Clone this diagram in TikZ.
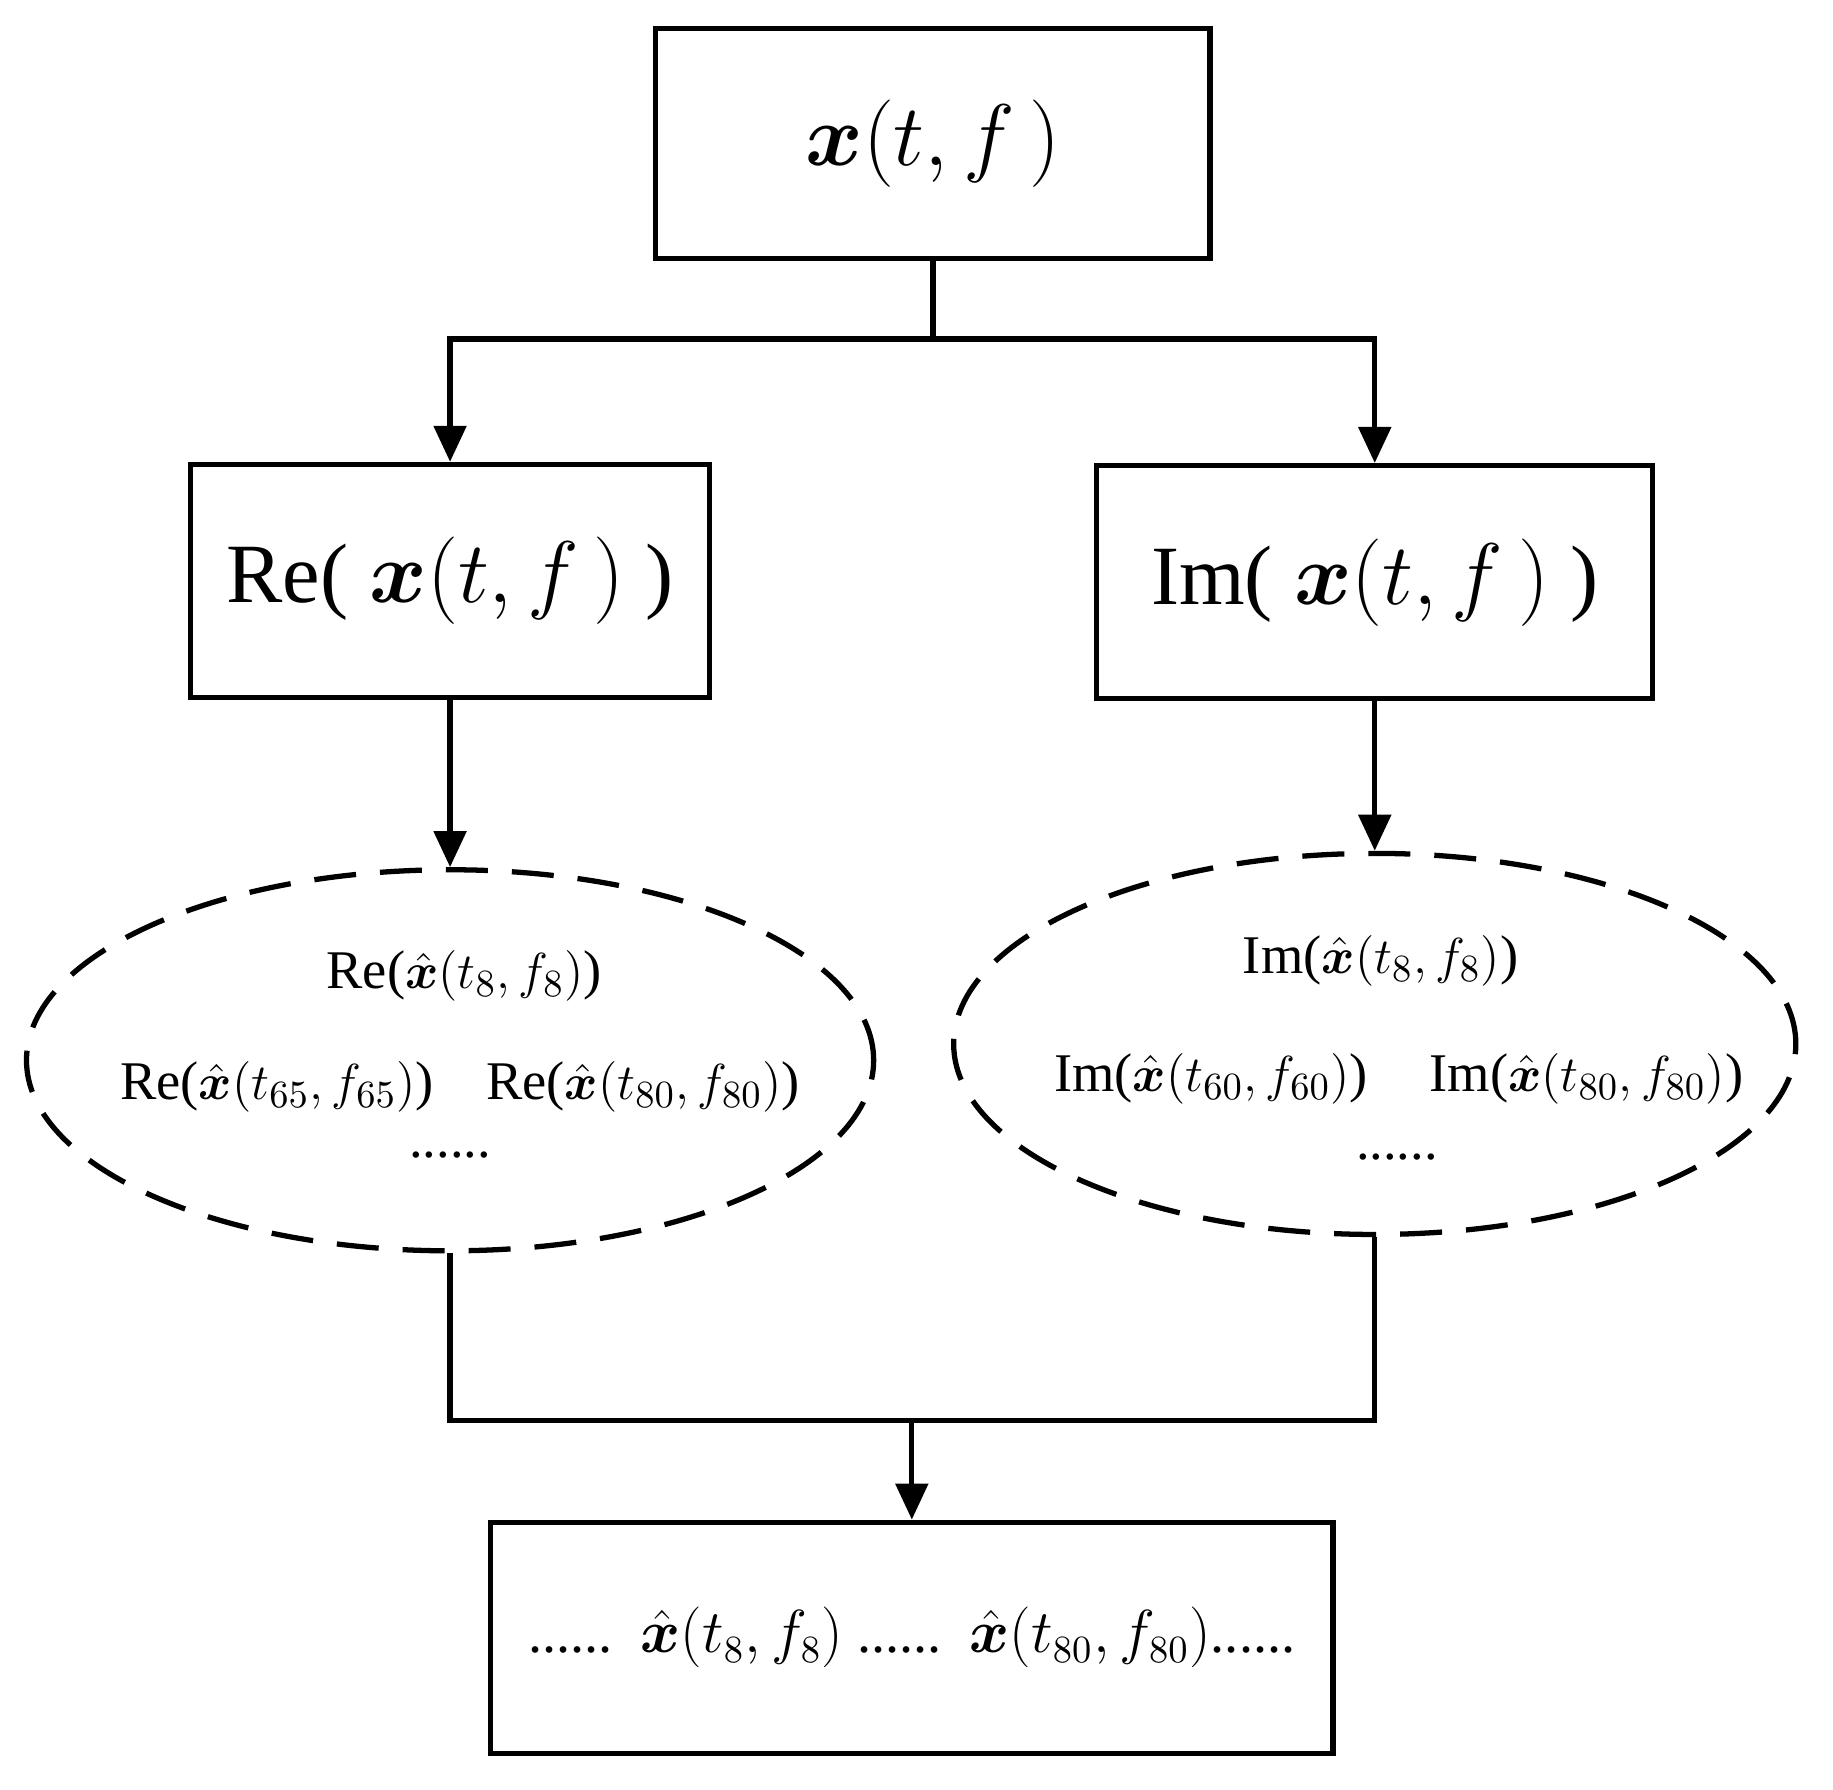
\documentclass[tikz,border=0pt]{standalone}
\usepackage{fontspec}
\setmainfont{Liberation Serif}
\usepackage{bm}
\usetikzlibrary{shapes.geometric,arrows.meta}
\tikzset{
 box/.style={draw,line width=1.5pt,inner sep=0pt},
 cloud/.style={draw,ellipse,line width=1.5pt,dash pattern=on 4.2mm off 2.4mm,inner sep=0pt},
 link/.style={line width=1.5pt},
 arr/.style={link,-{Triangle[length=3.6mm,width=3.2mm]}}
}
\newcommand{\xh}{\hat{\bm{x}}}
\begin{document}
\begin{tikzpicture}[x=0.01169cm,y=-0.01169cm]
 \useasboundingbox (0,0) rectangle (1568,1531);

 %boxes
 \node[box,minimum width=5.54cm,minimum height=2.30cm] (top) at (798,123)
  {\fontsize{28}{32}\selectfont $\bm{x}(t,f\,)$};
 \node[box,minimum width=5.19cm,minimum height=2.33cm] (re) at (385,497)
  {\fontsize{24}{28}\selectfont Re( $\bm{x}(t,f\,)$ )};
 \node[box,minimum width=5.56cm,minimum height=2.33cm] (im) at (1176,498)
  {\fontsize{24}{28}\selectfont Im( $\bm{x}(t,f\,)$ )};
 \node[box,minimum width=8.42cm,minimum height=2.31cm] (out) at (780,1401)
  {\fontsize{16}{19}\selectfont ......\ \ $\xh(t_8,f_8)$ ......\ \ $\xh(t_{80},f_{80})$......};

 %dashed sets
 \node[cloud,minimum width=8.47cm,minimum height=3.81cm] (reset) at (385,907) {};
 \node[cloud,minimum width=8.42cm,minimum height=3.81cm] (imset) at (1176,893) {};

 %set contents
 \begin{scope}[font=\fontsize{15.5}{18}\selectfont]
  \node (r1) at (397,835) {Re($\xh(t_8,f_8)$)};
  \node (r2) at (237,930) {Re($\xh(t_{65},f_{65})$)};
  \node (r3) at (550,930) {Re($\xh(t_{80},f_{80})$)};
  \node (r4) at (385,988) {......};
  \node (i1) at (1181,822) {Im($\xh(t_8,f_8)$)};
  \node (i2) at (1036,923) {Im($\xh(t_{60},f_{60})$)};
  \node (i3) at (1357,923) {Im($\xh(t_{80},f_{80})$)};
  \node (i4) at (1195,990) {......};
 \end{scope}

 %junctions
 \coordinate (split) at (798,290);
 \coordinate (join) at (780,1215);

 %connectors
 \draw[link] (top.south) -- (split);
 \draw[arr] (split) -| (re.north);
 \draw[arr] (split) -| (im.north);
 \draw[arr] (re.south) -- (reset.north);
 \draw[arr] (im.south) -- (imset.north);
 \draw[link] (reset.south) |- (join);
 \draw[link] (imset.south) |- (join);
 \draw[arr] (join) -- (out.north);
\end{tikzpicture}
\end{document}
